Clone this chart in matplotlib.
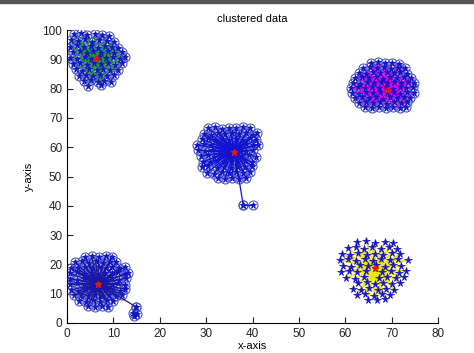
import matplotlib
matplotlib.use("Agg")
import matplotlib.pyplot as plt
from matplotlib.patches import Rectangle

plt.rcParams['font.family'] = ['Liberation Sans', 'DejaVu Sans']

# cluster 1 (top left)
c1_x = [1.6, 3.1, 4.4, 6.0, 7.6, 9.0,
        0.9, 2.4, 3.9, 5.3, 7.0, 8.6, 10.1,
        0.7, 2.1, 3.6, 5.1, 6.6, 8.1, 9.6, 11.1,
        1.3, 2.8, 4.2, 5.7, 7.3, 8.8, 10.2, 11.9,
        0.6, 2.2, 3.8, 5.2, 6.9, 8.3, 9.9, 11.4, 12.6,
        1.2, 2.9, 4.4, 5.9, 7.4, 8.9, 10.4, 11.8,
        1.9, 3.3, 4.8, 6.4, 7.8, 9.3, 10.9,
        2.6, 4.1, 5.6, 7.1, 8.6, 10.1,
        3.6, 5.1, 6.6, 8.0, 9.4,
        4.6, 7.4]
c1_y = [98.6, 98.9, 98.2, 98.7, 98.4, 97.8,
        96.7, 96.2, 96.9, 96.0, 96.6, 96.1, 95.8,
        94.3, 94.8, 94.1, 94.6, 94.0, 94.7, 94.2, 93.8,
        92.4, 92.9, 92.2, 92.7, 92.3, 92.8, 92.1, 92.5,
        90.6, 90.2, 90.8, 90.1, 90.7, 90.3, 90.9, 90.2, 90.8,
        88.4, 88.8, 88.2, 88.7, 88.3, 88.9, 88.1, 88.6,
        86.6, 86.1, 86.7, 86.2, 86.8, 86.3, 86.5,
        84.4, 84.8, 84.2, 84.7, 84.3, 84.6,
        82.5, 82.9, 82.3, 82.7, 82.2,
        81.0, 81.1]

# cluster 2 (top right)
c2_x = [65.5, 67.0, 68.5, 70.0, 71.5,
        63.8, 65.3, 66.8, 68.3, 69.8, 71.3, 72.8,
        62.9, 64.4, 65.9, 67.4, 68.9, 70.4, 71.9, 73.4,
        62.2, 63.7, 65.2, 66.7, 68.2, 69.7, 71.2, 72.7, 74.1,
        61.6, 63.1, 64.6, 66.1, 67.6, 69.1, 70.6, 72.1, 73.6, 74.9,
        61.2, 62.7, 64.2, 65.7, 67.2, 68.7, 70.2, 71.7, 73.2, 74.7,
        61.4, 62.9, 64.4, 65.9, 67.4, 68.9, 70.4, 71.9, 73.4, 74.8,
        62.1, 63.6, 65.1, 66.6, 68.1, 69.6, 71.1, 72.6, 74.0,
        63.0, 64.5, 66.0, 67.5, 69.0, 70.5, 72.0, 73.4,
        64.2, 65.7, 67.2, 68.7, 70.2, 71.7, 73.0]
c2_y = [88.8, 89.1, 88.6, 88.9, 88.5,
        87.1, 87.4, 86.9, 87.3, 86.8, 87.2, 86.9,
        85.4, 85.1, 85.7, 85.2, 85.6, 85.3, 85.5, 85.0,
        83.7, 84.0, 83.5, 83.9, 83.4, 83.8, 83.6, 83.9, 83.5,
        82.0, 81.7, 82.3, 81.8, 82.2, 81.9, 82.1, 81.8, 82.2, 81.9,
        80.3, 80.6, 80.1, 80.5, 80.2, 80.6, 80.0, 80.4, 80.1, 80.5,
        78.6, 78.3, 78.8, 78.4, 78.9, 78.5, 78.7, 78.3, 78.8, 78.5,
        76.9, 77.2, 76.7, 77.1, 76.6, 77.0, 76.8, 77.2, 76.9,
        75.2, 75.5, 75.0, 75.4, 74.9, 75.3, 75.1, 75.4,
        73.6, 73.3, 73.8, 73.4, 73.7, 73.3, 73.8]

# cluster 3 (middle)
c3_x = [30.5, 32.0, 33.5, 35.0, 36.5, 38.0, 39.5,
        29.5, 31.0, 32.5, 34.0, 35.5, 37.0, 38.5, 40.0, 41.0,
        29.0, 30.5, 32.0, 33.5, 35.0, 36.5, 38.0, 39.5, 40.8,
        28.0, 29.5, 31.0, 32.5, 34.0, 35.5, 37.0, 38.5, 40.0, 41.2,
        28.2, 29.7, 31.2, 32.7, 34.2, 35.7, 37.2, 38.7, 40.2,
        28.8, 30.3, 31.8, 33.3, 34.8, 36.3, 37.8, 39.3, 40.7,
        29.3, 30.8, 32.3, 33.8, 35.3, 36.8, 38.3, 39.8,
        29.0, 30.5, 32.4, 33.9, 35.4, 36.9, 38.4, 39.9,
        30.2, 31.7, 33.5, 35.0, 36.5, 38.0, 39.5,
        32.5, 34.0, 35.5, 37.0, 38.5,
        38.0]
c3_y = [66.5, 66.8, 66.3, 66.7, 66.4, 66.9, 66.5,
        64.6, 64.3, 64.8, 64.4, 64.9, 64.5, 64.7, 64.3, 64.8,
        62.7, 63.0, 62.5, 62.9, 62.4, 62.8, 62.6, 63.0, 62.5,
        60.8, 61.1, 60.6, 61.0, 60.5, 60.9, 60.7, 61.1, 60.6, 60.9,
        58.9, 58.6, 59.1, 58.7, 59.2, 58.8, 59.0, 58.6, 59.1,
        57.0, 57.3, 56.8, 57.2, 56.7, 57.1, 56.9, 57.3, 56.8,
        55.1, 54.8, 55.3, 54.9, 55.4, 55.0, 55.2, 54.8,
        53.2, 53.5, 53.0, 53.4, 52.9, 53.3, 53.1, 53.5,
        51.3, 51.0, 51.5, 51.1, 51.6, 51.2, 51.4,
        49.4, 49.1, 49.6, 49.2, 49.5,
        40.2]
# two outliers below cluster 3, joined to each other
tail3_x = [38.0, 40.2]
tail3_y = [40.2, 40.2]

# cluster 4 (bottom left)
c4_x = [3.8, 5.3, 6.8, 8.3, 9.6,
        1.8, 3.2, 4.7, 6.2, 7.7, 9.2, 10.6,
        0.8, 2.3, 3.8, 5.3, 6.8, 8.3, 9.8, 11.3, 12.5,
        0.6, 2.1, 3.6, 5.1, 6.6, 8.1, 9.6, 11.1, 12.6, 13.2,
        0.7, 2.2, 3.7, 5.2, 6.7, 8.2, 9.7, 11.2, 12.7,
        0.6, 2.1, 3.6, 5.1, 6.6, 8.1, 9.6, 11.1, 12.4,
        0.9, 2.4, 3.9, 5.4, 6.9, 8.4, 9.9, 11.4, 12.5,
        1.5, 3.0, 4.5, 6.0, 7.5, 9.0, 10.5, 11.8,
        2.6, 4.1, 5.6, 7.1, 8.6, 10.0,
        4.5, 6.0, 7.5, 8.9,
        14.9]
c4_y = [22.6, 22.9, 22.4, 22.8, 22.5,
        20.8, 21.1, 20.6, 21.0, 20.5, 20.9, 20.7,
        18.9, 18.6, 19.1, 18.7, 19.2, 18.8, 19.0, 18.6, 19.1,
        17.0, 17.3, 16.8, 17.2, 16.7, 17.1, 16.9, 17.3, 16.8, 17.1,
        15.1, 14.8, 15.3, 14.9, 15.4, 15.0, 15.2, 14.8, 15.3,
        13.2, 13.5, 13.0, 13.4, 12.9, 13.3, 13.1, 13.5, 13.0,
        11.3, 11.0, 11.5, 11.1, 11.6, 11.2, 11.4, 11.0, 11.5,
        9.4, 9.7, 9.2, 9.6, 9.1, 9.5, 9.3, 9.7,
        7.5, 7.2, 7.7, 7.3, 7.8, 7.4,
        5.7, 5.4, 5.9, 5.5,
        5.5]
# small group of outliers below the tail of cluster 4
tail4_x = [14.9, 14.2, 15.0, 14.5]
tail4_y = [5.5, 3.4, 3.0, 2.4]

# cluster 5 (bottom right)
c5_x = [62.5, 64.5, 66.5, 68.5, 70.3,
        60.5, 62.3, 64.0, 65.8, 67.6, 69.4, 71.2,
        59.2, 61.0, 62.8, 64.6, 66.4, 68.2, 70.0, 71.8,
        58.8, 60.6, 62.4, 64.2, 66.0, 67.8, 69.6, 71.4, 73.6,
        59.5, 61.3, 63.1, 64.9, 66.7, 68.5, 70.3, 72.1,
        59.0, 60.8, 62.6, 64.4, 68.0, 69.8, 71.6, 73.2,
        60.2, 62.0, 64.0, 67.3, 69.1, 70.9, 72.6,
        62.8, 64.6, 66.4, 68.2, 70.0, 71.8,
        61.6, 63.4, 65.2, 67.0, 68.8, 70.6,
        62.5, 64.3, 66.1, 67.9, 69.7,
        64.8, 66.8, 68.6]
c5_y = [27.5, 27.9, 27.3, 27.8, 27.2,
        25.5, 25.9, 25.3, 25.8, 25.4, 25.9, 25.2,
        23.5, 23.1, 23.8, 23.3, 23.7, 23.2, 23.9, 23.4,
        21.5, 21.9, 21.3, 21.8, 21.2, 21.7, 21.4, 21.9, 21.6,
        19.5, 19.2, 19.8, 19.3, 19.7, 19.1, 19.8, 19.4,
        17.5, 17.9, 17.3, 17.8, 17.4, 17.9, 17.2, 17.7,
        15.5, 15.1, 15.8, 15.3, 15.7, 15.2, 15.6,
        13.5, 13.9, 13.3, 13.8, 13.4, 13.7,
        11.5, 11.1, 11.8, 11.3, 11.7, 11.2,
        9.5, 9.9, 9.3, 9.8, 9.4,
        8.0, 7.7, 8.1]

centroid_x = [6.2, 68.9, 36.1, 6.7, 66.4]
centroid_y = [90.5, 79.6, 58.5, 13.3, 18.8]
line_colors = ['#1f9a30', '#e000e0', '#1010e0', '#1a1a78', '#f0e800']
line_widths = [1.2, 1.1, 0.9, 0.9, 1.3]
circled = [True, True, True, True, False]

clusters = [(c1_x, c1_y), (c2_x, c2_y), (c3_x, c3_y), (c4_x, c4_y), (c5_x, c5_y)]

fig = plt.figure(figsize=(4.74, 3.53), dpi=100)
ax = fig.add_axes([0.1414, 0.085, 0.7827, 0.83])

def draw_points(xs, ys, circle):
    if circle:
        ax.plot(xs, ys, 'o', ms=6.5, mfc='none', mec='#4a58c4', mew=0.8, zorder=2)
        ax.plot(xs, ys, '*', ms=5, color='#1414c8', mew=0.6, zorder=4)
    else:
        ax.plot(xs, ys, '*', ms=5.5, color='#1414c8', mew=0.5, zorder=4)

for k, (xs, ys) in enumerate(clusters):
    cx, cy = centroid_x[k], centroid_y[k]
    for x, y in zip(xs, ys):
        ax.plot([cx, x], [cy, y], color=line_colors[k], lw=line_widths[k], zorder=3)
    draw_points(xs, ys, circled[k])
    ax.plot(cx, cy, '*', ms=5, color='#e01818', zorder=5)

ax.plot(tail3_x, tail3_y, color=line_colors[2], lw=0.9, zorder=3)
draw_points(tail3_x, tail3_y, True)
ax.plot(tail4_x, tail4_y, color=line_colors[3], lw=0.9, zorder=3)
draw_points(tail4_x, tail4_y, True)

ax.set_xlim(0, 80)
ax.set_ylim(0, 100)
ax.set_xticks(range(0, 81, 10))
ax.set_yticks(range(0, 101, 10))
ax.spines['top'].set_visible(False)
ax.spines['right'].set_visible(False)
ax.tick_params(direction='in', length=4, labelsize=8.5, colors='#222222')
ax.set_title('clustered data', fontsize=8, pad=6)
ax.set_xlabel('x-axis', fontsize=8, labelpad=1)
ax.set_ylabel('y-axis', fontsize=8, labelpad=6)

# dark strip along the top edge of the image
fig.patches.append(Rectangle((0, 1 - 3 / 353), 1, 3 / 353, transform=fig.transFigure,
                             color='#555555', zorder=0))

fig.savefig('out.png', dpi=100)
